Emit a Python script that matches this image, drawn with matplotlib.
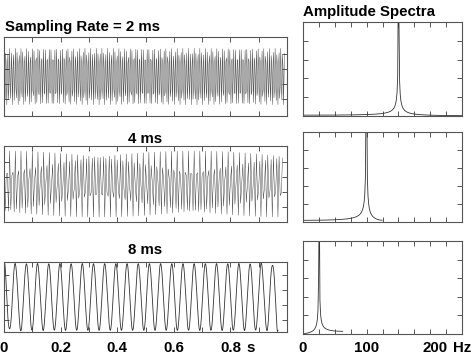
import numpy as np
import matplotlib
matplotlib.use("Agg")
import matplotlib.pyplot as plt
from matplotlib.transforms import ScaledTranslation

# ---- data / parameters ----
signal_hz = 150.3
sampling_ms = [2, 4, 8]
n_samples = [497, 247, 122]
spectrum_gain = 1.5
panel_titles = ["Sampling Rate = 2 ms", "4 ms", "8 ms"]
time_ticks = [0, 0.2, 0.4, 0.6, 0.8]
time_ticklabels = ["0", "0.2", "0.4", "0.6", "0.8"]
freq_ticks = [0, 100, 200]
freq_ticklabels = ["0", "100", "200"]
spectra_title = "Amplitude Spectra"

plt.rcParams['font.family'] = ['Liberation Sans', 'DejaVu Sans']
W, H = 474, 355
fig = plt.figure(figsize=(W / 100, H / 100), dpi=100)

def rect(x0, y0, x1, y1):
    return [x0 / W, (H - y1) / H, (x1 - x0) / W, (y1 - y0) / H]

left_boxes = [(4, 37, 287, 116), (4, 146, 287, 222), (4, 262, 287, 332)]
right_boxes = [(303, 22, 462, 116), (303, 132, 462, 222), (303, 241, 462, 334)]
left_ylims = [1.4, 1.15, 1.05]
title_pads = [4, 2.5, 5.5]

edge = '#555555'
FS = 10.8

def style(ax):
    for s in ax.spines.values():
        s.set_color(edge)
        s.set_linewidth(0.8)
    ax.tick_params(which='both', direction='in', length=3.5, width=0.7, color=edge,
                   top=True, right=True, bottom=True, left=True,
                   labelbottom=False, labelleft=False)

for i, (dt_ms, n) in enumerate(zip(sampling_ms, n_samples)):
    dt = dt_ms / 1000.0
    t = np.arange(n) * dt
    x = np.cos(2 * np.pi * signal_hz * t)

    ax = fig.add_axes(rect(*left_boxes[i]))
    if i == 2:
        # band-limited (sinc) reconstruction of the samples
        tf = np.linspace(0, t[-1], 3000)
        xf = (x[None, :] * np.sinc((tf[:, None] - t[None, :]) / dt)).sum(axis=1)
        ax.plot(tf, xf, color='#333333', lw=0.6)
    else:
        ax.plot(t, x, color='#333333', lw=0.3)
    ax.set_xlim(0, 1.0)
    yl = left_ylims[i]
    ax.set_ylim(-yl, yl)
    b = left_boxes[i]
    half_px = (b[3] - b[1]) / 2.0
    ax.set_xticks(np.arange(0, 1.0001, 0.1))
    ax.set_yticks(np.array([-22.5, -7.5, 7.5, 22.5]) / half_px * yl)
    style(ax)
    if i == 2:
        ax.set_xticks(time_ticks)
        ax.set_xticks(np.arange(0, 1.0001, 0.1), minor=True)
        style(ax)
        ax.set_xticklabels(time_ticklabels, fontsize=FS, fontweight='bold')
        ax.tick_params(labelbottom=True, pad=6.5)
        ax.annotate("s", xy=(0.87, 0), xycoords='axes fraction',
                    xytext=(0, -6.5), textcoords='offset points',
                    fontsize=FS, fontweight='bold', ha='center', va='top')
    if i == 0:
        ax.set_title(panel_titles[i], loc='left', fontsize=FS,
                     fontweight='bold', pad=title_pads[i], x=0.005)
    else:
        ax.set_title(panel_titles[i], fontsize=FS, fontweight='bold',
                     pad=title_pads[i])

    # spectrum
    amp = np.abs(np.fft.rfft(x))
    f = np.fft.rfftfreq(n, dt)
    amp = spectrum_gain * amp / amp.max()
    axs = fig.add_axes(rect(*right_boxes[i]))
    axs.plot(f, amp, color='#333333', lw=0.6)
    axs.set_xlim(0, 250)
    axs.set_ylim(0, 1.0)
    axs.set_xticks(np.arange(0, 251, 25))
    axs.set_yticks([0.2, 0.4, 0.6, 0.8])
    style(axs)
    if i == 0:
        axs.set_title(spectra_title, loc='left', fontsize=FS,
                      fontweight='bold', pad=4)
    if i == 2:
        axs.set_xticks(freq_ticks)
        axs.set_xticks(np.arange(0, 251, 25), minor=True)
        style(axs)
        axs.set_xticklabels(freq_ticklabels, fontsize=FS, fontweight='bold')
        axs.tick_params(labelbottom=True, pad=5)
        lab = axs.get_xticklabels()[-1]
        lab.set_transform(lab.get_transform() +
                          ScaledTranslation(5 / 100, 0, fig.dpi_scale_trans))
        axs.annotate("Hz", xy=(0.945, 0), xycoords='axes fraction',
                     xytext=(0, -5), textcoords='offset points',
                     fontsize=FS, fontweight='bold', ha='left', va='top')

fig.savefig("out.png", dpi=100)
